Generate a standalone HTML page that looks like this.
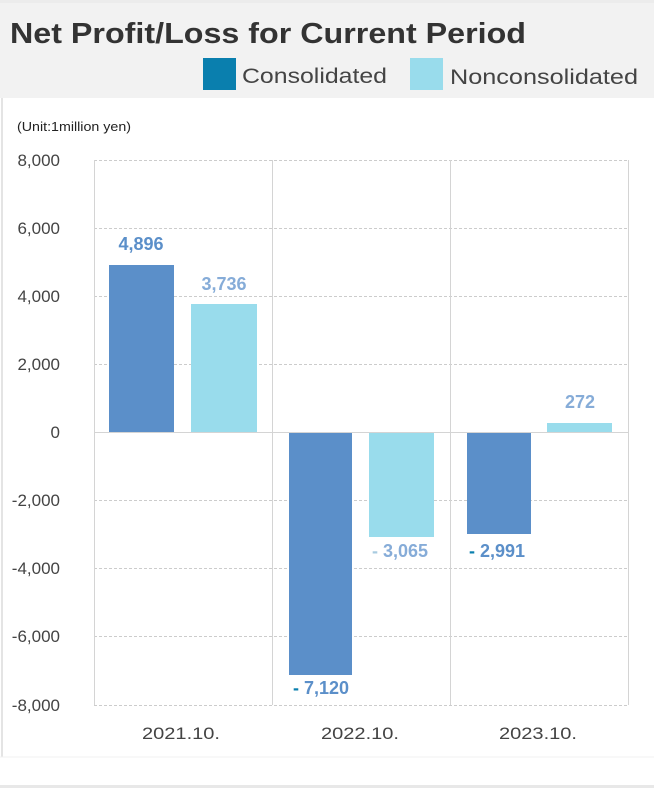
<!DOCTYPE html>
<html><head><style>
html,body{margin:0;padding:0;background:#fff;}
svg{display:block;}
text{font-family:"Liberation Sans",Arial,sans-serif;}
</style></head><body>
<svg width="654" height="788" viewBox="0 0 654 788" xmlns="http://www.w3.org/2000/svg">
<rect x="0" y="0" width="654" height="788" fill="#fff"/>
<rect x="0" y="0" width="654" height="3" fill="#ececec"/>
<rect x="0" y="3" width="654" height="95" fill="#f2f2f2"/>
<line x1="2" y1="98" x2="2" y2="757" stroke="#e4e4e4" stroke-width="2"/>
<line x1="0" y1="757" x2="654" y2="757" stroke="#f0f0f0" stroke-width="1"/>
<rect x="0" y="785" width="654" height="3" fill="#e8e8e8"/>
<text x="10" y="43" font-size="29" font-weight="bold" fill="#333" textLength="516" lengthAdjust="spacingAndGlyphs">Net Profit/Loss for Current Period</text>
<rect x="203" y="58" width="33" height="32" fill="#0a7fae"/>
<text x="242" y="83" font-size="21" fill="#444" textLength="145" lengthAdjust="spacingAndGlyphs">Consolidated</text>
<rect x="410" y="58" width="33" height="32" fill="#99dcec"/>
<text x="450" y="84" font-size="21" fill="#444" textLength="188" lengthAdjust="spacingAndGlyphs">Nonconsolidated</text>
<text x="17" y="131" font-size="13" fill="#222" textLength="114" lengthAdjust="spacingAndGlyphs">(Unit:1million yen)</text>
<g stroke="#ccc" stroke-dasharray="3,2" stroke-width="1">
<line x1="94" y1="160.5" x2="629" y2="160.5"/>
<line x1="94" y1="228.5" x2="629" y2="228.5"/>
<line x1="94" y1="296.5" x2="629" y2="296.5"/>
<line x1="94" y1="364.5" x2="629" y2="364.5"/>
<line x1="94" y1="500.5" x2="629" y2="500.5"/>
<line x1="94" y1="568.5" x2="629" y2="568.5"/>
<line x1="94" y1="636.5" x2="629" y2="636.5"/>
<line x1="94" y1="705.5" x2="629" y2="705.5"/>
</g>
<g stroke="#d4d4d4" stroke-width="1">
<line x1="94.5" y1="160" x2="94.5" y2="705"/>
<line x1="272.5" y1="160" x2="272.5" y2="705"/>
<line x1="450.5" y1="160" x2="450.5" y2="705"/>
<line x1="628.5" y1="160" x2="628.5" y2="705"/>
<line x1="94" y1="432.5" x2="629" y2="432.5"/>
</g>
<g font-size="17" fill="#444" text-anchor="end">
<text x="60" y="166">8,000</text>
<text x="60" y="234">6,000</text>
<text x="60" y="302">4,000</text>
<text x="60" y="370">2,000</text>
<text x="60" y="438">0</text>
<text x="60" y="506">-2,000</text>
<text x="60" y="574">-4,000</text>
<text x="60" y="642">-6,000</text>
<text x="60" y="711">-8,000</text>
</g>
<rect x="109" y="265" width="65" height="167" fill="#5b8fc9"/>
<rect x="191" y="304" width="66" height="128" fill="#99dcec"/>
<rect x="289" y="433" width="63" height="242" fill="#5b8fc9"/>
<rect x="369" y="433" width="65" height="104" fill="#99dcec"/>
<rect x="467" y="433" width="64" height="101" fill="#5b8fc9"/>
<rect x="547" y="423" width="65" height="9" fill="#99dcec"/>
<g font-size="18" font-weight="bold" text-anchor="middle">
<text x="141" y="250" fill="#5b8fc9">4,896</text>
<text x="224" y="290" fill="#86acd8">3,736</text>
<text x="321" y="694" fill="#5b8fc9"><tspan fill="#0a7fae">-</tspan> 7,120</text>
<text x="400" y="557" fill="#86acd8"><tspan fill="#a8cbe0">-</tspan> 3,065</text>
<text x="497" y="557" fill="#5b8fc9"><tspan fill="#0a7fae">-</tspan> 2,991</text>
<text x="580" y="408" fill="#86acd8">272</text>
</g>
<g font-size="17" fill="#444" text-anchor="middle">
<text x="181" y="739" textLength="78" lengthAdjust="spacingAndGlyphs">2021.10.</text>
<text x="360" y="739" textLength="78" lengthAdjust="spacingAndGlyphs">2022.10.</text>
<text x="538" y="739" textLength="78" lengthAdjust="spacingAndGlyphs">2023.10.</text>
</g>
</svg>
</body></html>
